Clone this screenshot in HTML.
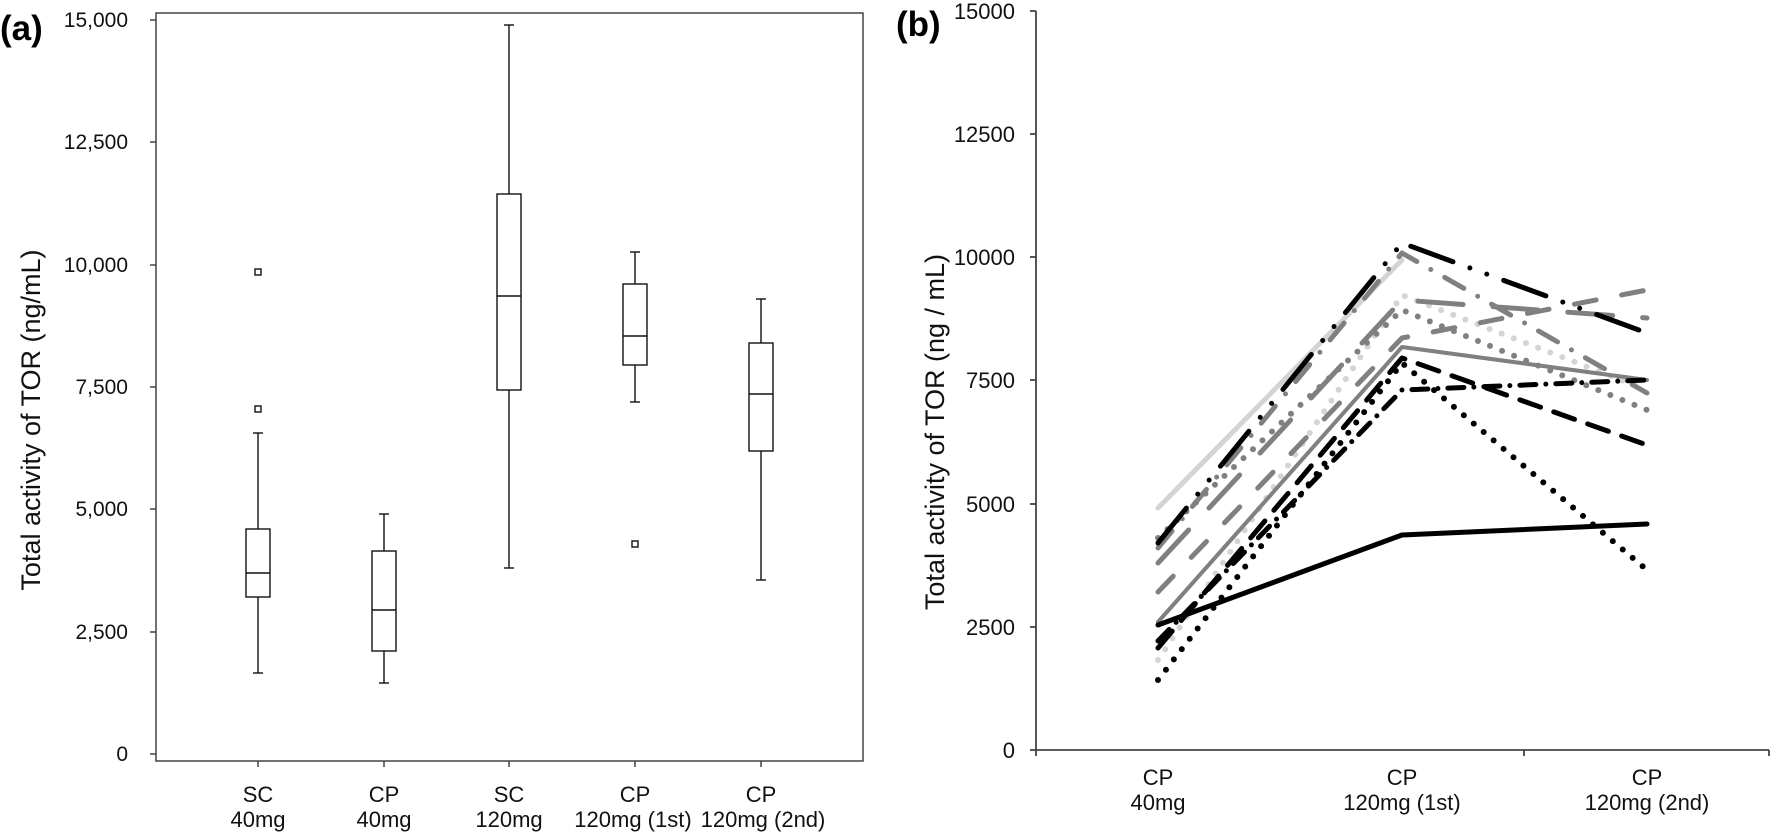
<!DOCTYPE html>
<html><head><meta charset="utf-8"><style>
html,body{margin:0;padding:0;background:#fff;}
svg{display:block;font-family:"Liberation Sans",Arial,sans-serif;}
</style></head><body>
<svg width="1772" height="835" viewBox="0 0 1772 835" xmlns="http://www.w3.org/2000/svg">
<!-- Panel a -->
<text x="0" y="40" font-size="35" font-weight="bold">(a)</text>
<rect x="156" y="13" width="707" height="748" fill="none" stroke="#444" stroke-width="1.5"/>
<g stroke="#444" stroke-width="1.5">
<line x1="150" y1="20" x2="156" y2="20"/><line x1="150" y1="142" x2="156" y2="142"/>
<line x1="150" y1="265" x2="156" y2="265"/><line x1="150" y1="387" x2="156" y2="387"/>
<line x1="150" y1="509" x2="156" y2="509"/><line x1="150" y1="632" x2="156" y2="632"/>
<line x1="150" y1="754" x2="156" y2="754"/>
<line x1="258" y1="761" x2="258" y2="767"/><line x1="384" y1="761" x2="384" y2="767"/>
<line x1="509" y1="761" x2="509" y2="767"/><line x1="635" y1="761" x2="635" y2="767"/>
<line x1="761" y1="761" x2="761" y2="767"/>
</g>
<g font-size="21" text-anchor="end" fill="#111">
<text x="128" y="27">15,000</text><text x="128" y="149">12,500</text>
<text x="128" y="272">10,000</text><text x="128" y="394">7,500</text>
<text x="128" y="516">5,000</text><text x="128" y="639">2,500</text>
<text x="128" y="761">0</text>
</g>
<text transform="translate(40,420) rotate(-90)" font-size="27" text-anchor="middle" fill="#111">Total activity of TOR (ng/mL)</text>
<g font-size="22" text-anchor="middle" fill="#111">
<text x="258" y="802">SC</text><text x="258" y="827">40mg</text>
<text x="384" y="802">CP</text><text x="384" y="827">40mg</text>
<text x="509" y="802">SC</text><text x="509" y="827">120mg</text>
<text x="635" y="802">CP</text><text x="633" y="827">120mg (1st)</text>
<text x="761" y="802">CP</text><text x="763" y="827">120mg (2nd)</text>
</g>
<g stroke="#111" stroke-width="1.4" fill="#fff">
<line x1="258" y1="433" x2="258" y2="673"/><line x1="253" y1="433" x2="263" y2="433"/><line x1="253" y1="673" x2="263" y2="673"/>
<rect x="246" y="529" width="24" height="68"/><line x1="246" y1="573" x2="270" y2="573"/>
<rect x="255" y="269" width="6" height="6"/><rect x="255" y="406" width="6" height="6"/>
<line x1="384" y1="514" x2="384" y2="683"/><line x1="379" y1="514" x2="389" y2="514"/><line x1="379" y1="683" x2="389" y2="683"/>
<rect x="372" y="551" width="24" height="100"/><line x1="372" y1="610" x2="396" y2="610"/>
<line x1="509" y1="25" x2="509" y2="568"/><line x1="504" y1="25" x2="514" y2="25"/><line x1="504" y1="568" x2="514" y2="568"/>
<rect x="497" y="194" width="24" height="196"/><line x1="497" y1="296" x2="521" y2="296"/>
<line x1="635" y1="252" x2="635" y2="402"/><line x1="630" y1="252" x2="640" y2="252"/><line x1="630" y1="402" x2="640" y2="402"/>
<rect x="623" y="284" width="24" height="81"/><line x1="623" y1="336" x2="647" y2="336"/>
<rect x="632" y="541" width="6" height="6"/>
<line x1="761" y1="299" x2="761" y2="580"/><line x1="756" y1="299" x2="766" y2="299"/><line x1="756" y1="580" x2="766" y2="580"/>
<rect x="749" y="343" width="24" height="108"/><line x1="749" y1="394" x2="773" y2="394"/>
</g>

<!-- Panel b -->
<text x="896" y="36" font-size="35" font-weight="bold">(b)</text>
<g stroke="#444" stroke-width="1.8">
<line x1="1036" y1="11" x2="1036" y2="756"/>
<line x1="1036" y1="750" x2="1769" y2="750"/>
<line x1="1030" y1="11" x2="1036" y2="11"/><line x1="1030" y1="134" x2="1036" y2="134"/>
<line x1="1030" y1="257" x2="1036" y2="257"/><line x1="1030" y1="380" x2="1036" y2="380"/>
<line x1="1030" y1="504" x2="1036" y2="504"/><line x1="1030" y1="627" x2="1036" y2="627"/>
<line x1="1030" y1="750" x2="1036" y2="750"/>
<line x1="1524" y1="750" x2="1524" y2="756"/><line x1="1769" y1="750" x2="1769" y2="756"/>
</g>
<g font-size="22" text-anchor="end" fill="#111">
<text x="1015" y="19">15000</text><text x="1015" y="142">12500</text>
<text x="1015" y="265">10000</text><text x="1015" y="388">7500</text>
<text x="1015" y="512">5000</text><text x="1015" y="635">2500</text>
<text x="1015" y="758">0</text>
</g>
<text transform="translate(944,432) rotate(-90)" font-size="27" text-anchor="middle" fill="#111">Total activity of TOR (ng / mL)</text>
<g font-size="22" text-anchor="middle" fill="#111">
<text x="1158" y="785">CP</text><text x="1158" y="810">40mg</text>
<text x="1402" y="785">CP</text><text x="1402" y="810">120mg (1st)</text>
<text x="1647" y="785">CP</text><text x="1647" y="810">120mg (2nd)</text>
</g>
<g fill="none" stroke-linecap="round" stroke-linejoin="round">
<polyline points="1158,508 1402,260" stroke="#d4d4d4" stroke-width="5"/>
<polyline points="1158,660 1402,295 1647,390" stroke="#d4d4d4" stroke-width="6" stroke-dasharray="0 13"/>
<polyline points="1158,538 1402,310 1647,410" stroke="#808080" stroke-width="6" stroke-dasharray="0 13"/>
<polyline points="1158,563 1402,300 1647,318" stroke="#808080" stroke-width="5" stroke-dasharray="45 30"/>
<polyline points="1158,592 1402,338 1647,290" stroke="#808080" stroke-width="5" stroke-dasharray="22 26"/>
<polyline points="1158,548 1402,253 1647,393" stroke="#808080" stroke-width="5" stroke-dasharray="22 16 0 16"/>
<polyline points="1158,622 1402,347 1647,380" stroke="#808080" stroke-width="4"/>
<polyline points="1158,543 1402,243 1647,333" stroke="#000" stroke-width="5" stroke-dasharray="45 18 0 18 0 18"/>
<polyline points="1158,648 1402,358 1647,445" stroke="#000" stroke-width="5" stroke-dasharray="22 14"/>
<polyline points="1158,641 1402,390 1647,380" stroke="#000" stroke-width="5" stroke-dasharray="16 10 0 10"/>
<polyline points="1158,680 1402,363 1647,570" stroke="#000" stroke-width="6" stroke-dasharray="0 13"/>
<polyline points="1158,625 1402,535 1647,524" stroke="#000" stroke-width="5"/>
</g>
</svg>
</body></html>
